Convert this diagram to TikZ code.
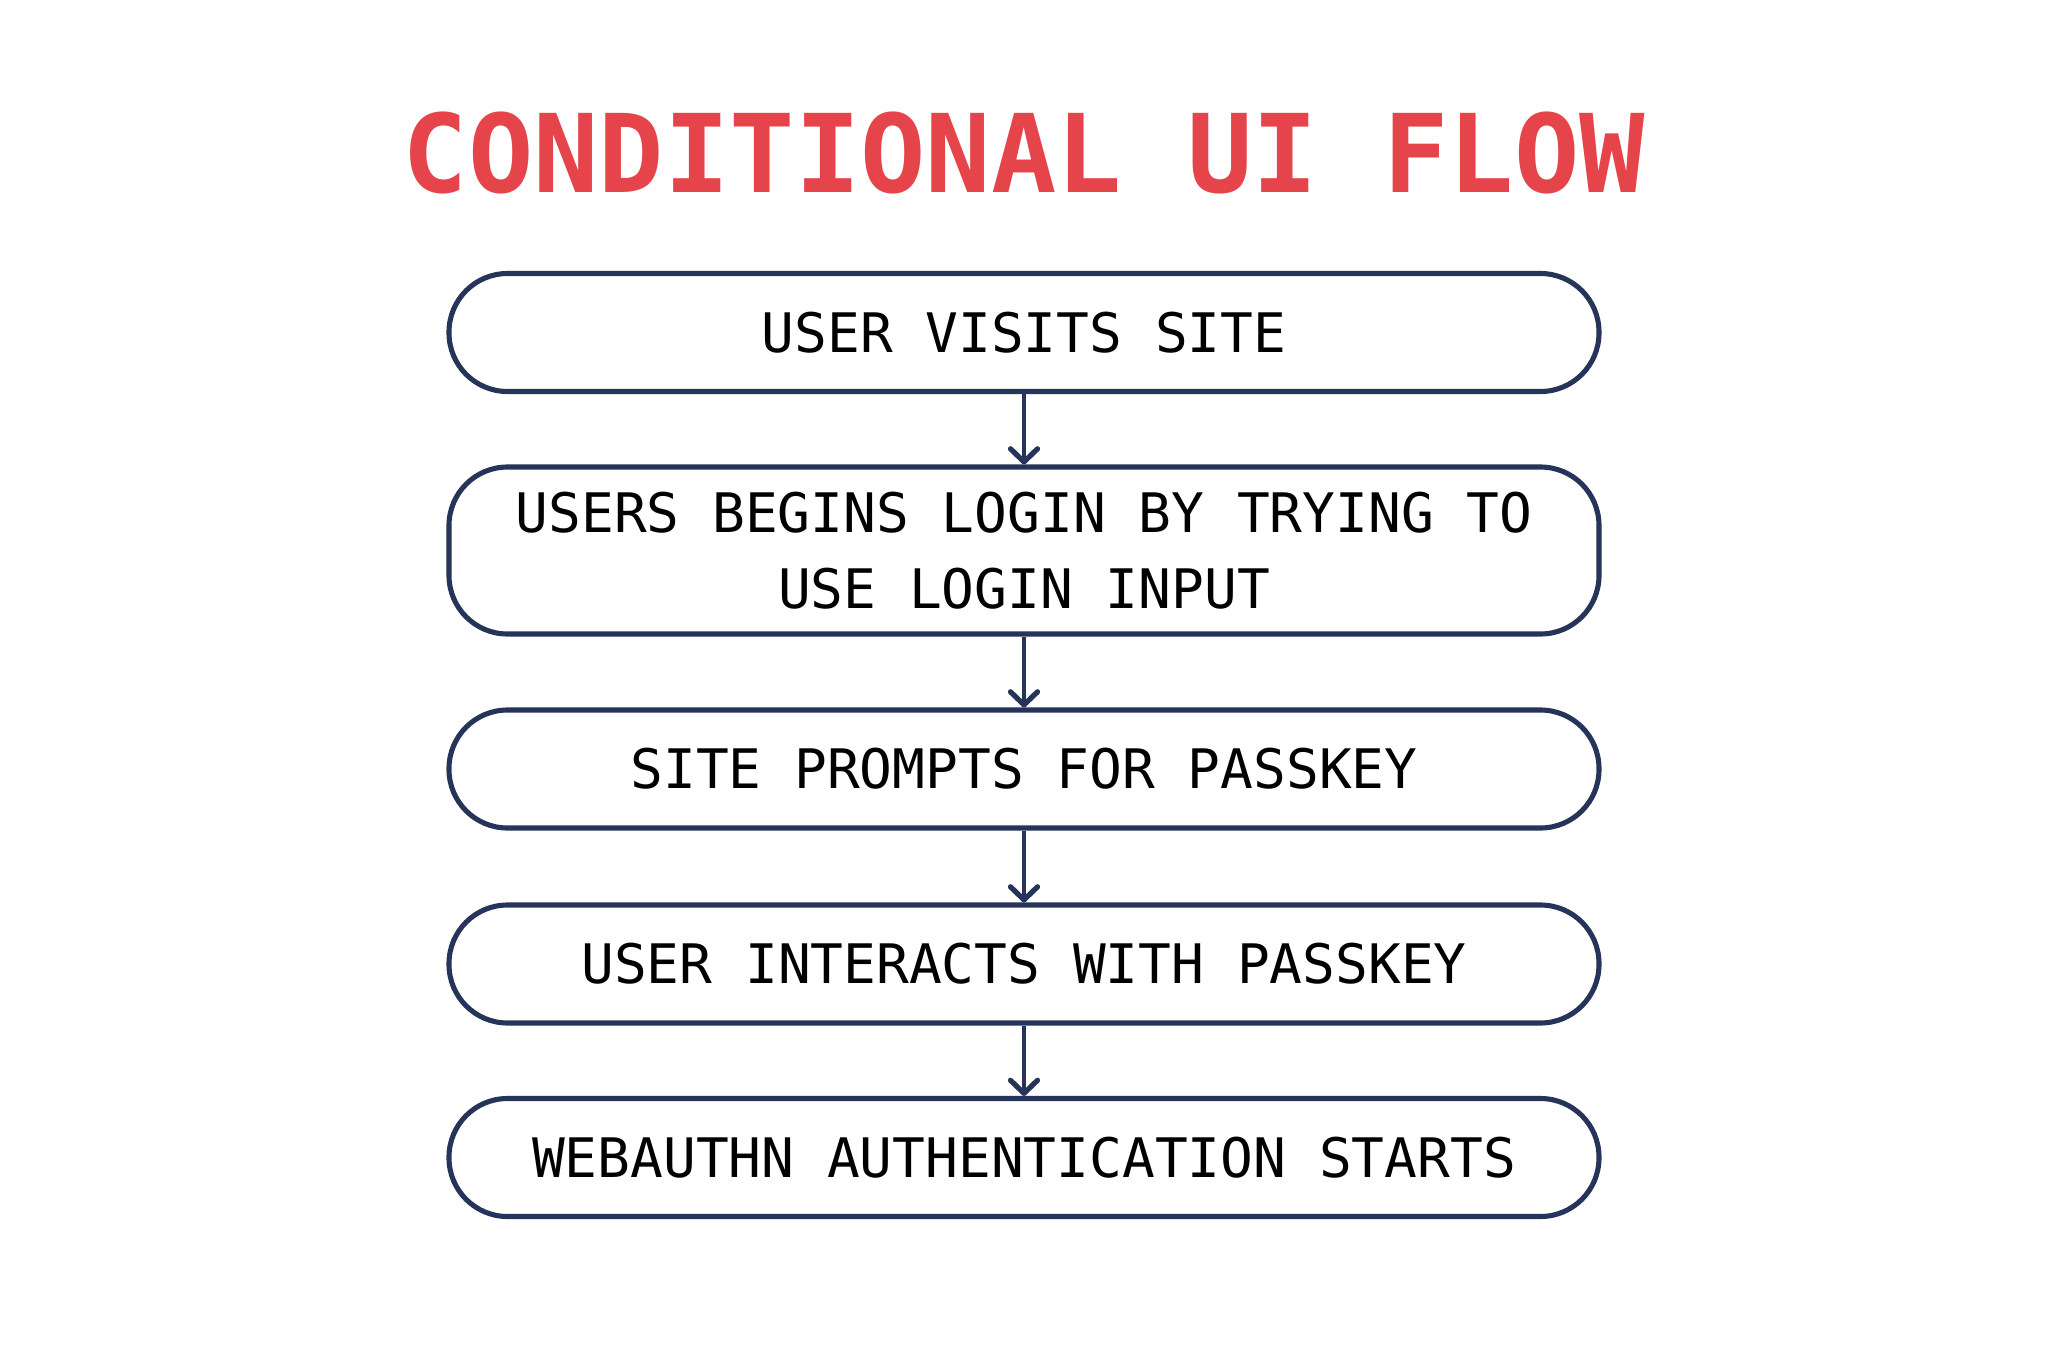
\documentclass[tikz,border=0pt]{standalone}
\usepackage{fontspec}
\usepackage{tikz}
\usepackage{xcolor}
\usetikzlibrary{arrows.meta}
\newfontfamily\flowfont{DejaVu Sans Mono}
\definecolor{flowred}{HTML}{E5444A}
\definecolor{flownavy}{HTML}{263459}

\begin{document}
\begin{tikzpicture}[scale=1,
            stage/.style={draw=flownavy,line width=1.45pt,rounded corners=0.585cm,minimum width=11.5cm,minimum height=1.18cm,align=center,font=\flowfont\fontsize{15.5}{21.6}\selectfont,text=black},
            flow/.style={draw=flownavy,line width=1.25pt,-{Straight Barb[length=1.3mm,width=2.7mm,line width=1.5pt,line cap=round,line join=round]}}]
            \useasboundingbox (0,0) rectangle (20.48,-13.65);

            \node (title) at (10.24,-1.92) [anchor=base,font=\flowfont\bfseries\fontsize{30.9}{36}\selectfont,text=flowred] {CONDITIONAL UI FLOW};

            \node (a) at (10.24,-3.325) [stage] {USER VISITS SITE};
            \node (b) at (10.24,-5.505) [stage,minimum height=1.67cm] {USERS BEGINS LOGIN BY TRYING TO\\USE LOGIN INPUT};
            \node (c) at (10.24,-7.69) [stage] {SITE PROMPTS FOR PASSKEY};
            \node (d) at (10.24,-9.64) [stage] {USER INTERACTS WITH PASSKEY};
            \node (e) at (10.24,-11.575) [stage] {WEBAUTHN AUTHENTICATION STARTS};

            \draw[flow] (a) -- (b);
            \draw[flow] (b) -- (c);
            \draw[flow] (c) -- (d);
            \draw[flow] (d) -- (e);

        \end{tikzpicture}
\end{document}
